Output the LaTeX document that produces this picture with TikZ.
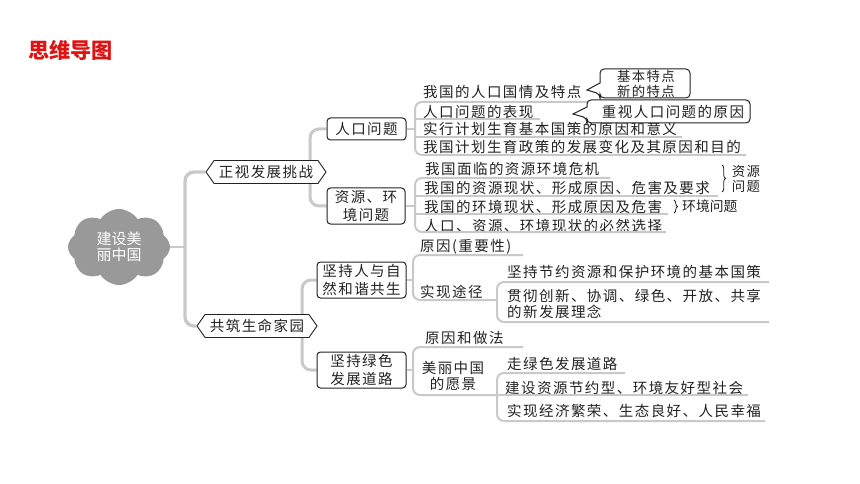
\documentclass[tikz,border=0pt]{standalone}
\usepackage{fontspec}
\setmainfont{Noto Sans CJK SC}
\newfontfamily\cjkspaced[LetterSpace=10]{Noto Sans CJK SC}
\usetikzlibrary{shapes.symbols,decorations.pathreplacing,backgrounds}
\definecolor{branchgray}{HTML}{C9C9C9}
\definecolor{ink}{HTML}{222222}
\tikzset{
  x=1pt,y=-1pt,
  trunk/.style={draw=branchgray,line width=3.4pt,rounded corners=9pt},
  twig/.style={draw=branchgray,line width=2pt,rounded corners=7pt},
  txt/.style={anchor=west,inner sep=0pt,text=ink,font=\cjkspaced\fontsize{14.5}{16}\selectfont,align=left},
  ctxt/.style={anchor=center,inner sep=0pt,text=ink,font=\cjkspaced\fontsize{14.5}{16}\selectfont,align=center},
  small/.style={anchor=center,inner sep=0pt,text=ink,font=\cjkspaced\fontsize{13.4}{16}\selectfont,align=center},
  hexa/.style={shape=signal,signal to=west and east,signal pointer angle=110,draw=ink,line width=0.9pt,fill=white,
    minimum width=120pt,minimum height=23pt,inner sep=0pt,text=ink,font=\cjkspaced\fontsize{14.5}{16}\selectfont},
  rbox/.style={draw=ink,line width=1pt,rounded corners=3.5pt,fill=white,inner sep=0pt,text=ink,align=center,
    font=\cjkspaced\fontsize{14.5}{18}\selectfont},
  callout/.style={draw=ink,line width=1pt,fill=white},
  bracelr/.style={draw=ink,line width=0.8pt,decorate,decoration={brace,amplitude=3.5pt}}
}
\begin{document}
\begin{tikzpicture}
\useasboundingbox (0,0) rectangle (860,484);
\node[anchor=west,inner sep=0pt,text={rgb,255:red,222;green,20;blue,20},font=\bfseries\fontsize{21.2}{22}\selectfont] (title) at (28,50) {思维导图};

% cloud
\node[shape=cloud,cloud puffs=8,cloud puff arc=115,aspect=1.36,fill=black!40,draw=none,minimum width=102pt,minimum height=76pt,inner sep=0pt,
  text=white,align=center,font=\fontsize{15}{16}\selectfont] (cloud) at (119,247) {建设美\\丽中国};

% level one
\node[hexa] (zs) at (266,172) {正视发展挑战};
\node[hexa] (gz) at (257,326) {共筑生命家园};
\coordinate (tk) at (185,247);

% level two
\node[rbox,minimum width=79pt,minimum height=22pt] (rk) at (366.5,129) {人口问题};
\node[rbox,minimum width=78pt,minimum height=36pt] (zy) at (366,206) {资源、环\\境问题};
\node[rbox,minimum width=89pt,minimum height=36pt] (rz) at (361.5,280) {坚持人与自\\然和谐共生};
\node[rbox,minimum width=89pt,minimum height=36pt] (ls) at (361.5,370) {坚持绿色\\发展道路};
\begin{scope}[on background layer]
\draw[draw=branchgray,line width=1.6pt] (cloud.east) -- (tk);
\draw[trunk] (zs.west) -- (185,172) -- (185,326) -- (gz.west);
\draw[trunk,line width=3pt] (rk.west) -- (310,129) -- (310,206) -- (zy.west);
\draw[trunk,line width=3pt] (rz.west) -- (302,280) -- (302,370) -- (ls.west);
\end{scope}

% 人口问题 leaves
\node[txt] (a1) at (423,92) {我国的人口国情及特点};
\node[txt] (a2) at (423,112) {人口问题的表现};
\node[txt] (a3) at (423,129) {实行计划生育基本国策的原因和意义};
\node[txt] (a4) at (423,147) {我国计划生育政策的发展变化及其原因和目的};
\coordinate (ua1) at (590,102);
\coordinate (ua2) at (540,119);
\coordinate (ua3) at (682,137);
\coordinate (ua4) at (746,155);
\draw[twig] (rk.east) -- (415,129);
\draw[twig] (ua1) -- (415,102) -- (415,155) -- (ua4);
\draw[twig] (415,119) -- (ua2);
\draw[twig] (415,137) -- (ua3);

% callouts
\draw[callout] [rounded corners=4pt] (600,78) -- (600,69) -- (690,69) -- (690,98) -- (600,98) -- (600,94) [sharp corners] -- (587,90) -- (600,83) -- cycle;
\node[small] (c1) at (646,76.5) {基本特点};
\node[small] (c2) at (646,91) {新的特点};
\draw[callout] [rounded corners=4pt] (587,104) -- (587,100) -- (750,100) -- (750,123) -- (587,123) -- (587,118) [sharp corners] -- (573,114) -- (587,107) -- cycle;
\node[ctxt] (c3) at (673,112) {重视人口问题的原因};

% 资源环境 leaves
\node[txt] (b1) at (425,169) {我国面临的资源环境危机};
\node[txt] (b2) at (424,188) {我国的资源现状、形成原因、危害及要求};
\node[txt] (b3) at (424,207) {我国的环境现状、形成原因及危害};
\node[txt] (b4) at (424,226) {人口、资源、环境现状的必然选择};
\coordinate (ub1) at (610,178);
\coordinate (ub2) at (718,196);
\coordinate (ub3) at (668,214);
\coordinate (ub4) at (666,232);
\draw[twig] (zy.east) -- (415,206);
\draw[twig] (ub1) -- (415,178) -- (415,232) -- (ub4);
\draw[twig] (415,196) -- (ub2);
\draw[twig] (415,214) -- (ub3);
\draw[bracelr] (722,165) -- (722,192);
\draw[bracelr] (674,200) -- (674,213);
\node[small] (d1) at (746,171.5) {资源};
\node[small] (d2) at (746,186.5) {问题};
\node[txt,font=\fontsize{13.8}{16}\selectfont] (d3) at (682,206) {环境问题};

% 坚持人与自然
\node[txt] (e1) at (420,247) {原因(重要性)};
\node[txt] (e2) at (420,292) {实现途径};
\node[txt] (e3) at (507,272) {坚持节约资源和保护环境的基本国策};
\node[txt] (e4) at (507,296) {贯彻创新、协调、绿色、开放、共享};
\node[txt] (e5) at (507,312) {的新发展理念};
\coordinate (ue1) at (523,255);
\coordinate (ue2) at (497,300);
\coordinate (ue3) at (769,282);
\coordinate (ue4) at (769,322);
\draw[twig] (rz.east) -- (413,280);
\draw[twig] (ue1) -- (413,255) -- (413,300) -- (ue2);
\draw[twig] (ue3) -- (497,282) -- (497,322) -- (ue4);

% 坚持绿色
\node[txt] (f1) at (425,338) {原因和做法};
\node[ctxt] (f2) at (453,375.5) {美丽中国\\的愿景};
\node[txt] (f3) at (507,364) {走绿色发展道路};
\node[txt] (f4) at (505,388) {建设资源节约型、环境友好型社会};
\node[txt] (f5) at (507,411) {实现经济繁荣、生态良好、人民幸福};
\coordinate (uf1) at (523,347);
\coordinate (uf2) at (497,395);
\coordinate (uf3) at (625,373);
\coordinate (uf4) at (748,395);
\coordinate (uf5) at (765,421);
\draw[twig] (ls.east) -- (413,370);
\draw[twig] (uf1) -- (413,347) -- (413,395) -- (uf2);
\draw[twig] (uf3) -- (497,373) -- (497,421) -- (uf5);
\draw[twig] (497,395) -- (uf4);
\end{tikzpicture}
\end{document}
